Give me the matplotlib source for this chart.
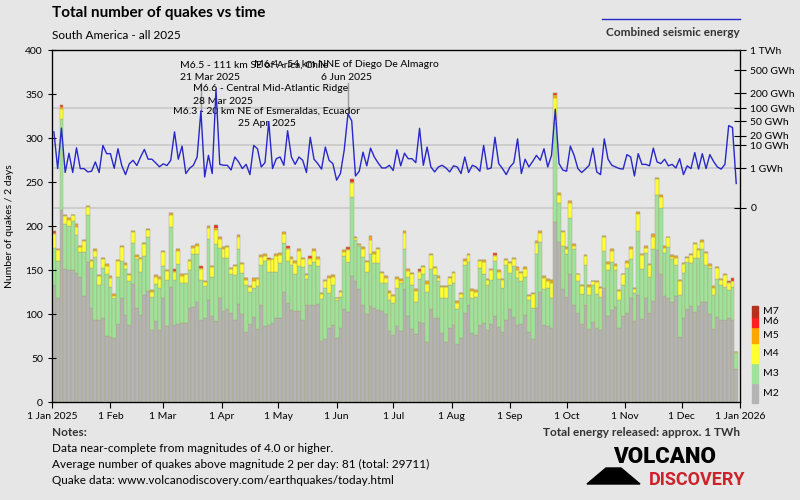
import matplotlib
matplotlib.use("Agg")
import matplotlib.pyplot as plt
import matplotlib.dates as mdates
import numpy as np
from matplotlib.patches import Rectangle, Polygon

plt.rcParams['font.family'] = ['Lato', 'DejaVu Sans']

# Quake counts per 2-day bin, 1 Jan 2025 .. 31 Dec 2025
m2 = [133, 118, 218, 151, 150, 150, 147, 142, 121, 159, 107, 93, 93, 95, 75, 74, 73, 89, 118, 99,
      87, 134, 107, 99, 122, 126, 82, 92, 82, 118, 86, 131, 88, 89, 90, 90, 107, 108, 114, 93,
      95, 116, 98, 92, 118, 103, 106, 101, 93, 111, 100, 79, 89, 97, 83, 110, 86, 88, 90, 95,
      96, 125, 113, 104, 103, 103, 93, 110, 110, 110, 111, 69, 72, 84, 87, 73, 84, 106, 102, 143,
      137, 128, 110, 100, 109, 107, 105, 103, 100, 81, 76, 86, 81, 128, 98, 83, 77, 91, 90, 68,
      106, 96, 95, 78, 68, 84, 88, 66, 73, 101, 110, 78, 76, 88, 90, 82, 89, 98, 85, 79,
      93, 106, 97, 87, 89, 99, 79, 72, 107, 125, 87, 86, 84, 204, 182, 128, 119, 145, 110, 101,
      89, 110, 83, 91, 84, 82, 129, 98, 105, 108, 84, 98, 101, 118, 92, 122, 94, 118, 101, 115,
      173, 146, 121, 118, 114, 120, 74, 95, 106, 109, 102, 109, 114, 114, 100, 83, 97, 93, 93, 95,
      93, 38]
m3 = [42, 42, 104, 51, 50, 56, 43, 29, 50, 53, 45, 72, 40, 57, 71, 57, 45, 53, 42, 52,
      50, 47, 55, 49, 44, 62, 37, 42, 47, 37, 53, 68, 51, 68, 45, 45, 43, 60, 54, 46,
      37, 69, 44, 88, 57, 61, 58, 45, 51, 63, 47, 54, 36, 32, 49, 46, 74, 60, 58, 53,
      62, 56, 47, 52, 42, 51, 60, 30, 46, 49, 43, 48, 57, 40, 46, 43, 35, 60, 57, 90,
      47, 49, 55, 48, 59, 51, 53, 32, 35, 35, 37, 44, 54, 46, 44, 50, 37, 49, 55, 57,
      45, 48, 42, 40, 50, 49, 47, 40, 45, 55, 49, 40, 43, 64, 56, 51, 50, 62, 55, 50,
      63, 41, 57, 54, 48, 43, 37, 35, 61, 57, 41, 43, 34, 113, 44, 49, 49, 64, 64, 36,
      34, 46, 39, 42, 39, 37, 43, 52, 54, 42, 32, 35, 51, 45, 32, 72, 57, 51, 41, 59,
      62, 74, 48, 58, 49, 36, 48, 52, 53, 49, 62, 55, 60, 42, 52, 39, 43, 40, 38, 32,
      38, 18]
m4 = [16, 13, 11, 9, 7, 6, 9, 5, 12, 10, 8, 7, 10, 10, 9, 10, 3, 18, 16, 5,
      7, 12, 3, 14, 13, 7, 6, 8, 11, 15, 10, 13, 9, 15, 8, 10, 10, 7, 9, 12,
      4, 13, 11, 16, 10, 10, 12, 5, 10, 14, 10, 6, 6, 8, 8, 9, 6, 13, 14, 18,
      9, 10, 14, 7, 13, 18, 9, 4, 7, 13, 9, 6, 8, 17, 9, 2, 6, 5, 14, 16,
      2, 1, 9, 11, 16, 10, 16, 12, 6, 8, 8, 10, 3, 18, 7, 12, 12, 8, 8, 9,
      16, 8, 4, 13, 13, 8, 12, 7, 5, 4, 8, 8, 6, 8, 13, 6, 11, 6, 8, 10,
      5, 11, 8, 9, 10, 9, 5, 16, 13, 10, 13, 9, 17, 28, 9, 16, 6, 17, 3, 8,
      9, 10, 9, 4, 13, 10, 15, 7, 13, 5, 10, 12, 6, 11, 4, 20, 16, 6, 14, 14,
      18, 13, 6, 11, 2, 8, 15, 10, 5, 9, 15, 9, 8, 13, 3, 8, 12, 6, 13, 8,
      6, 1]
m5 = [1, 1, 2, 1, 2, 1, 3, 1, 1, 1, 1, 2, 1, 2, 2, 2, 2, 1, 1, 2,
      2, 1, 2, 2, 2, 2, 2, 2, 2, 2, 1, 3, 1, 2, 2, 1, 1, 2, 2, 1,
      1, 2, 1, 2, 2, 2, 1, 1, 2, 2, 1, 2, 1, 4, 1, 2, 2, 1, 1, 2,
      2, 2, 1, 2, 2, 2, 2, 1, 1, 2, 2, 1, 2, 2, 2, 0, 1, 2, 1, 1,
      2, 2, 2, 1, 5, 2, 1, 1, 2, 2, 1, 2, 2, 2, 2, 2, 2, 1, 2, 3,
      1, 1, 2, 1, 1, 1, 1, 2, 1, 2, 1, 2, 2, 1, 2, 1, 1, 1, 2, 1,
      1, 1, 2, 3, 1, 2, 1, 1, 2, 2, 2, 2, 4, 4, 2, 1, 2, 2, 2, 1,
      1, 1, 2, 1, 1, 2, 2, 2, 2, 2, 1, 1, 2, 2, 1, 2, 1, 2, 1, 3,
      2, 2, 2, 1, 2, 2, 2, 1, 1, 1, 2, 1, 2, 1, 2, 2, 1, 1, 2, 1,
      1, 0]
m6_bins = {0: 2, 2: 3, 32: 2, 39: 2, 43: 3, 57: 2, 62: 2, 68: 2, 78: 2, 79: 3,
           97: 2, 117: 2, 133: 2, 179: 2, 180: 3}
m6 = [m6_bins.get(i, 0) for i in range(len(m2))]
m7 = [0] * len(m2)

# Combined seismic energy per bin, GWh
energy = [26, 0.96, 33, 0.57, 5.0, 0.57, 8.0, 0.96, 0.96, 0.62, 0.68, 2.1, 0.57, 9.7, 4.8, 4.8, 1.0, 7.4, 1.4, 0.42,
          1.7, 2.5, 1.4, 3.5, 7.0, 2.8, 2.8, 1.9, 1.2, 1.7, 1.4, 2.5, 26, 2.8, 9.2, 0.49, 1.0, 1.44, 3.5, 88,
          0.29, 4.1, 0.49, 240, 1.6, 1.44, 1.44, 0.8, 3.5, 2.1, 0.96, 1.6, 0.42, 9.7, 7.4, 1.18, 1.94, 48.6, 0.96, 2.95,
          3.5, 1.44, 28, 3.5, 1.6, 3.5, 2.5, 0.57, 18, 2.8, 1.74, 0.9, 8.5, 2.5, 1.74, 0.17, 0.49, 6.4, 74, 51.5,
          0.34, 0.68, 5.5, 1.35, 7.8, 3.5, 1.9, 1.04, 1.04, 1.44, 0.75, 6.8, 1.35, 5.0, 2.95, 2.95, 1.94, 32.6, 1.44, 8.5,
          1.18, 0.62, 1.18, 1.44, 1.04, 0.62, 1.35, 1.18, 0.49, 3.5, 0.57, 1.44, 1.18, 0.68, 9.7, 0.9, 1.04, 18, 1.74, 0.96,
          0.42, 1.18, 1.94, 16, 0.49, 2.8, 1.18, 2.2, 4.1, 2.5, 7.4, 1.18, 4.1, 96, 1.74, 0.8, 0.68, 9.2, 4.1, 0.96,
          0.57, 0.9, 1.44, 7.8, 0.62, 0.42, 16, 2.8, 1.44, 1.18, 0.96, 0.9, 4.4, 3.5, 0.34, 4.8, 1.6, 1.6, 1.35, 7.8,
          2.1, 1.74, 2.8, 1.35, 1.6, 1.04, 2.95, 0.42, 1.35, 0.96, 5.3, 0.9, 4.8, 0.96, 4.4, 2.2, 1.18, 0.9, 1.6, 38.5,
          34.4, 0.09]

energy_ticks = [0, 1, 10, 20, 50, 100, 200, 500, 1000]
energy_labels = ["0", "1 GWh", "10 GWh", "20 GWh", "50 GWh", "100 GWh", "200 GWh", "500 GWh", "1 TWh"]
energy_grid = [0, 1, 10, 100]

# label, date label, date, alignment, label height (quakes axis), energy bin
quakes = [
    ("M6.5 - 111 km SE of Arica, Chile", "21 Mar 2025", "2025-03-21", "left", 383, 39),
    ("M6.6 - Central Mid-Atlantic Ridge", "28 Mar 2025", "2025-03-28", "left", 356, 43),
    ("M6.3 - 20 km NE of Esmeraldas, Ecuador", "25 Apr 2025", "2025-04-25", "center", 330, 57),
    ("M6.4 - 54 km NNE of Diego De Almagro", "6 Jun 2025", "2025-06-06", "center", 383, 78),
]

mag_labels = ["M2", "M3", "M4", "M5", "M6", "M7"]
mag_colors = ["#b4b4b4", "#9fe39b", "#ffff33", "#ffa500", "#ff2020", "#b5311b"]

bg = "#e6e6e6"
start = np.datetime64("2025-01-01")
x = mdates.date2num(start + np.arange(len(m2)) * np.timedelta64(2, "D"))

fig = plt.figure(figsize=(8, 5), dpi=100, facecolor=bg)
ax = fig.add_axes([52 / 800, 1 - 402 / 500, 688 / 800, 352 / 500])
ax.set_facecolor(bg)

bottom = np.zeros(len(m2))
for vals, col in zip([m2, m3, m4, m5, m6, m7], mag_colors):
    vals = np.array(vals, dtype=float)
    ax.bar(x, vals, width=2, bottom=bottom, align="edge", color=col,
           edgecolor="#a8a47c", linewidth=0.3)
    bottom += vals

ax.set_xlim(mdates.date2num(np.datetime64("2025-01-01")), mdates.date2num(np.datetime64("2026-01-01")))
ax.set_ylim(0, 400)
ax.set_yticks(range(0, 401, 50))
ax.tick_params(axis="y", direction="inout", length=6, labelsize=7.5, width=0.8)
ax.tick_params(axis="x", direction="out", length=4, labelsize=7.5, width=0.8)
months = [np.datetime64(f"2025-{m:02d}-01") for m in range(1, 13)] + [np.datetime64("2026-01-01")]
ax.set_xticks(mdates.date2num(months))
ax.set_xticklabels(["1 Jan 2025", "1 Feb", "1 Mar", "1 Apr", "1 May", "1 Jun", "1 Jul", "1 Aug",
                    "1 Sep", "1 Oct", "1 Nov", "1 Dec", "1 Jan 2026"])
ax.set_ylabel("Number of quakes / 2 days", fontsize=7.5, labelpad=8)
for s in ax.spines.values():
    s.set_linewidth(0.9)

# energy on a fifth-root scale
ax2 = ax.twinx()
t_top = 1000 ** 0.2
t_bottom = -220.5 * t_top / 179.5
ax2.set_ylim(t_bottom, t_top)
ax2.set_yticks([e ** 0.2 for e in energy_ticks])
ax2.set_yticklabels(energy_labels)
ax2.tick_params(axis="y", direction="inout", length=8, labelsize=7.5, width=0.8)
for e in energy_grid:
    ax2.axhline(e ** 0.2, color="#c8c8c8", linewidth=1.2, zorder=0)
ax.set_zorder(ax2.get_zorder() + 1)
ax.patch.set_visible(False)
ax2.patch.set_visible(True)
ax2.set_facecolor(bg)

# energy line drawn on top of the bars
ax3 = ax.twinx()
ax3.set_ylim(t_bottom, t_top)
ax3.axis("off")
ax3.plot(x + 1, np.array(energy) ** 0.2, color="#2828c8", linewidth=1.0)

# annotations of the largest quakes, with a grey leader down to the energy curve
to_quakes = 179.5 / t_top
for line1, line2, date, ha, yv, b in quakes:
    xd = mdates.date2num(np.datetime64(date))
    xt = xd - 11 if ha == "left" else xd
    ax.text(xt, yv, line1, ha=ha, va="center", fontsize=7.5, zorder=10)
    ax.text(xt, yv - 14, line2, ha=ha, va="center", fontsize=7.5, zorder=10)
    y_peak = 220.5 + energy[b] ** 0.2 * to_quakes
    if y_peak < yv - 20:
        ax.plot([x[b] + 1, x[b] + 1], [yv - 21, y_peak], color="#999999", linewidth=1, zorder=1)

# titles
fig.text(52 / 800, 1 - 13 / 500, "Total number of quakes vs time", fontsize=11, fontweight="bold", va="center")
fig.text(52 / 800, 1 - 35 / 500, "South America - all 2025", fontsize=8.5, va="center")
fig.add_artist(plt.Line2D([602 / 800, 740 / 800], [1 - 19 / 500, 1 - 19 / 500], color="#2828c8", linewidth=1))
fig.text(740 / 800, 1 - 32 / 500, "Combined seismic energy", fontsize=8.5, fontweight="bold",
         color="#333333", ha="right", va="center")

# magnitude legend
heights = [20, 20, 20, 16, 10, 11]
ys = 403
for lab, col, h in zip(mag_labels, mag_colors, heights):
    fig.add_artist(Rectangle((752 / 800, 1 - ys / 500), 6 / 800, h / 500, color=col, transform=fig.transFigure))
    fig.text(763 / 800, 1 - (ys - h / 2) / 500, lab, fontsize=7.5, va="center")
    ys -= h

# notes
fig.text(52 / 800, 1 - 432 / 500, "Notes:", fontsize=8.5, fontweight="bold", color="#333333", va="center")
notes = ["Data near-complete from magnitudes of 4.0 or higher.",
         "Average number of quakes above magnitude 2 per day: 81 (total: 29711)",
         "Quake data: www.volcanodiscovery.com/earthquakes/today.html"]
for i, n in enumerate(notes):
    fig.text(52 / 800, 1 - (448 + 16 * i) / 500, n, fontsize=8.5, va="center")
fig.text(740 / 800, 1 - 432 / 500, "Total energy released: approx. 1 TWh", fontsize=8.5,
         fontweight="bold", color="#333333", ha="right", va="center")

# logo
fig.text(664 / 800, 1 - 457 / 500, "VOLCANO", fontsize=16, fontweight="black", ha="center", va="center",
         family=["Roboto"])
fig.text(697 / 800, 1 - 480 / 500, "DISCOVERY", fontsize=13, fontweight="bold", ha="center", va="center",
         color="#cc2229", family=["Roboto"])
fig.add_artist(Polygon([[587 / 800, 1 - 484 / 500], [640 / 800, 1 - 484 / 500], [621 / 800, 1 - 468 / 500],
                        [606 / 800, 1 - 468 / 500]], closed=True, color="black", transform=fig.transFigure))

fig.savefig("out.png", dpi=100, facecolor=bg)
